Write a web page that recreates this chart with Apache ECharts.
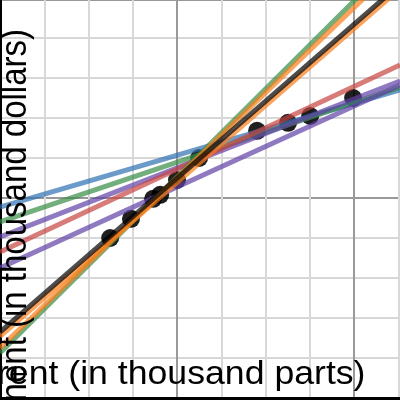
<!DOCTYPE html>
<html>
<head>
<meta charset="utf-8">
<script src="https://cdn.jsdelivr.net/npm/echarts@6/dist/echarts.min.js"></script>
<style>html,body{margin:0;padding:0;background:#fff;}#c{width:400px;height:400px;}</style>
</head>
<body>
<div id="c"></div>
<script>
// Data points (x: thousand parts grid units, y: thousand dollars grid units)
const pointsX = [2.49, 2.96, 3.46, 3.62, 4.0, 4.5, 5.81, 6.51, 7.01, 7.98];
const pointsY = [4.0, 4.48, 4.98, 5.08, 5.45, 6.0, 6.68, 6.88, 7.05, 7.5];

// Fitted / candidate lines: y = slope * x + intercept
const lineNames      = ['blue', 'greenFlat', 'purpleUpper', 'red', 'purpleLower', 'greenSteep', 'orangeA', 'orangeB', 'black'];
const lineSlopes     = [0.3236, 0.3733, 0.4314, 0.5171, 0.506, 1.100, 1.0634, 0.9614, 0.9614];
const lineIntercepts = [4.775, 4.4, 4.025, 3.65, 3.25, 1.125, 1.25, 1.542, 1.65];

const xLabel = 'rent (in thousand parts)';
const yLabel = 'nent (in thousand dollars)';

const lineColors = ['#2d70b3', '#388c46', '#6042a6', '#c74440', '#6042a6', '#388c46', '#fa7e19', '#fa7e19', '#000000'];

const X_MAX = 400 / 44.25;
const Y_MAX = 398 / 40;

const chart = echarts.init(document.getElementById('c'), null, {renderer: 'canvas'});

const series = [{
  type: 'scatter',
  z: 1,
  data: pointsX.map((x, i) => [x, pointsY[i]]),
  symbolSize: 18,
  itemStyle: {color: '#000', opacity: 0.88},
  silent: true
}];
lineNames.forEach((n, i) => {
  series.push({
    type: 'line',
    name: n,
    z: 2,
    clip: true,
    showSymbol: false,
    silent: true,
    data: [[0, lineIntercepts[i]], [X_MAX, lineIntercepts[i] + lineSlopes[i] * X_MAX]],
    lineStyle: {color: lineColors[i], width: 5, opacity: 0.7}
  });
});

chart.setOption({
  animation: false,
  backgroundColor: '#fff',
  grid: {left: 0, right: 0, top: 0, bottom: 2},
  xAxis: {
    type: 'value', min: 0, max: X_MAX, interval: 4,
    axisLabel: {show: false}, axisTick: {show: false},
    axisLine: {show: true, lineStyle: {color: '#000', width: 3}},
    splitLine: {show: true, lineStyle: {color: '#999', width: 2}},
    minorTick: {show: false, splitNumber: 4},
    minorSplitLine: {show: true, lineStyle: {color: '#d8d8d8', width: 2}}
  },
  yAxis: {
    type: 'value', min: 0, max: Y_MAX, interval: 5,
    axisLabel: {show: false}, axisTick: {show: false},
    axisLine: {show: true, lineStyle: {color: '#000', width: 4}},
    splitLine: {show: true, lineStyle: {color: '#999', width: 2}},
    minorTick: {show: false, splitNumber: 5},
    minorSplitLine: {show: true, lineStyle: {color: '#d8d8d8', width: 2}}
  },
  series: series,
  graphic: [
    {
      type: 'text', x: -3, y: 375, scaleX: 1.08, z: 100,
      style: {text: xLabel, fontSize: 33, fontFamily: '"Liberation Sans", Arial, sans-serif', fill: '#000', align: 'left', verticalAlign: 'middle'}
    },
    {
      type: 'text', x: 15.5, y: 29, rotation: Math.PI / 2, scaleY: 1.1, z: 100,
      style: {text: yLabel, fontSize: 33, fontFamily: '"Liberation Sans", Arial, sans-serif', fill: '#000', align: 'right', verticalAlign: 'middle'}
    }
  ]
});
</script>
</body>
</html>
